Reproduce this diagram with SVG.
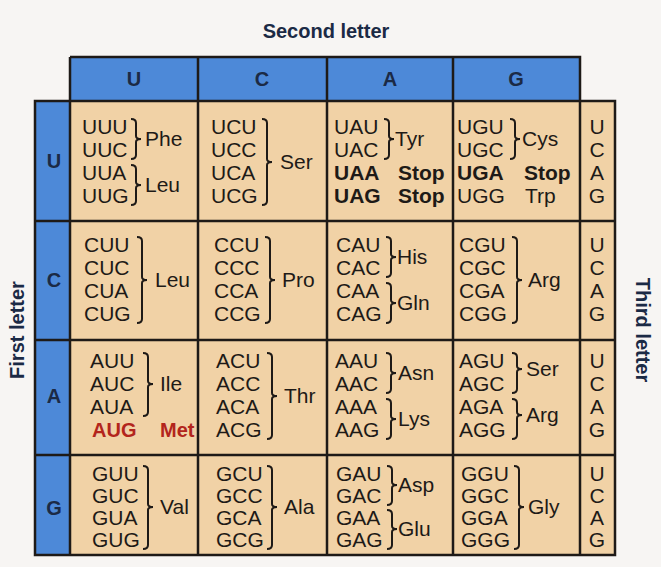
<svg xmlns="http://www.w3.org/2000/svg" width="661" height="567" viewBox="0 0 661 567">
<style>
text{font-family:"Liberation Sans",Arial,sans-serif;fill:#1e1a17}
.c{font-size:21px}
.b{font-size:21px;font-weight:bold}
.h{font-size:20px;font-weight:bold;fill:#1b2a45;text-anchor:middle}
.r{fill:#b3251c;font-weight:bold;font-size:20px}
.br{fill:none;stroke:#1e1a17;stroke-width:2}
.ln{stroke:#1e1a17;stroke-width:2.5;fill:none}
.t{font-size:21px;text-anchor:middle}
</style>
<rect width="661" height="567" fill="#f7f5f3"/>
<g id="title-second"><text class="h" x="326" y="38">Second letter</text></g>
<g id="title-first"><text class="h" transform="translate(24,330) rotate(-90)">First letter</text></g>
<g id="title-third"><text class="h" transform="translate(636,330) rotate(90)">Third letter</text></g>
<g id="frame">
<rect x="70" y="57" width="510" height="44" fill="#4d89d8"/>
<rect x="35" y="101" width="35" height="454" fill="#4d89d8"/>
<rect x="70" y="101" width="545" height="454" fill="#f1d2a6"/>
<path class="ln" d="M70 57H580V101M70 57V555M198 57V555M327 57V555M453 57V555M580 57V555M35 101H615V555H35ZM35 221H615M35 340H615M35 455H615"/>
<text class="h" x="134" y="86">U</text><text class="h" x="262" y="86">C</text><text class="h" x="390" y="86">A</text><text class="h" x="516" y="86">G</text>
<text class="h" x="54" y="168">U</text><text class="h" x="54" y="287">C</text><text class="h" x="54" y="403">A</text><text class="h" x="54" y="515">G</text>
</g>
<g id="third">
<text class="t" x="597" y="134">U</text><text class="t" x="597" y="157">C</text><text class="t" x="597" y="180">A</text><text class="t" x="597" y="203">G</text>
<text class="t" x="597" y="252">U</text><text class="t" x="597" y="275">C</text><text class="t" x="597" y="298">A</text><text class="t" x="597" y="321">G</text>
<text class="t" x="597" y="368">U</text><text class="t" x="597" y="391">C</text><text class="t" x="597" y="414">A</text><text class="t" x="597" y="437">G</text>
<text class="t" x="597" y="481">U</text><text class="t" x="597" y="503">C</text><text class="t" x="597" y="525">A</text><text class="t" x="597" y="547">G</text>
</g>
<g id="colU">
<text class="c" x="82" y="134">UUU</text><text class="c" x="82" y="157">UUC</text><text class="c" x="82" y="180">UUA</text><text class="c" x="82" y="203">UUG</text>
<text class="c" x="145" y="146">Phe</text><text class="c" x="145" y="192">Leu</text>
<text class="c" x="84" y="252">CUU</text><text class="c" x="84" y="275">CUC</text><text class="c" x="84" y="298">CUA</text><text class="c" x="84" y="321">CUG</text>
<text class="c" x="155" y="287">Leu</text>
<text class="c" x="90" y="368">AUU</text><text class="c" x="90" y="391">AUC</text><text class="c" x="90" y="414">AUA</text>
<text class="r" x="92" y="437">AUG</text><text class="r" x="160" y="437">Met</text>
<text class="c" x="160" y="391">Ile</text>
<text class="c" x="92" y="481">GUU</text><text class="c" x="92" y="503">GUC</text><text class="c" x="92" y="525">GUA</text><text class="c" x="92" y="547">GUG</text>
<text class="c" x="160" y="514">Val</text>
</g>
<g id="colC">
<text class="c" x="211" y="134">UCU</text><text class="c" x="211" y="157">UCC</text><text class="c" x="211" y="180">UCA</text><text class="c" x="211" y="203">UCG</text><text class="c" x="280" y="169">Ser</text>
<text class="c" x="214" y="252">CCU</text><text class="c" x="214" y="275">CCC</text><text class="c" x="214" y="298">CCA</text><text class="c" x="214" y="321">CCG</text><text class="c" x="282" y="287">Pro</text>
<text class="c" x="216" y="368">ACU</text><text class="c" x="216" y="391">ACC</text><text class="c" x="216" y="414">ACA</text><text class="c" x="216" y="437">ACG</text><text class="c" x="284" y="403">Thr</text>
<text class="c" x="216" y="481">GCU</text><text class="c" x="216" y="503">GCC</text><text class="c" x="216" y="525">GCA</text><text class="c" x="216" y="547">GCG</text><text class="c" x="284" y="514">Ala</text>
</g>
<g id="colA">
<text class="c" x="334" y="134">UAU</text><text class="c" x="334" y="157">UAC</text><text class="c" x="395" y="146">Tyr</text>
<text class="b" x="334" y="180">UAA</text><text class="b" x="398" y="180">Stop</text>
<text class="b" x="334" y="203">UAG</text><text class="b" x="398" y="203">Stop</text>
<text class="c" x="336" y="252">CAU</text><text class="c" x="336" y="275">CAC</text><text class="c" x="397" y="264">His</text>
<text class="c" x="336" y="298">CAA</text><text class="c" x="336" y="321">CAG</text><text class="c" x="397" y="310">Gln</text>
<text class="c" x="335" y="368">AAU</text><text class="c" x="335" y="391">AAC</text><text class="c" x="398" y="380">Asn</text>
<text class="c" x="335" y="414">AAA</text><text class="c" x="335" y="437">AAG</text><text class="c" x="398" y="426">Lys</text>
<text class="c" x="336" y="481">GAU</text><text class="c" x="336" y="503">GAC</text><text class="c" x="398" y="492">Asp</text>
<text class="c" x="336" y="525">GAA</text><text class="c" x="336" y="547">GAG</text><text class="c" x="398" y="536">Glu</text>
</g>
<g id="colG">
<text class="c" x="457" y="134">UGU</text><text class="c" x="457" y="157">UGC</text><text class="c" x="522" y="146">Cys</text>
<text class="b" x="457" y="180">UGA</text><text class="b" x="524" y="180">Stop</text>
<text class="c" x="457" y="203">UGG</text><text class="c" x="525" y="203">Trp</text>
<text class="c" x="459" y="252">CGU</text><text class="c" x="459" y="275">CGC</text><text class="c" x="459" y="298">CGA</text><text class="c" x="459" y="321">CGG</text><text class="c" x="528" y="287">Arg</text>
<text class="c" x="459" y="368">AGU</text><text class="c" x="459" y="391">AGC</text><text class="c" x="526" y="376">Ser</text>
<text class="c" x="459" y="414">AGA</text><text class="c" x="459" y="437">AGG</text><text class="c" x="526" y="422">Arg</text>
<text class="c" x="461" y="481">GGU</text><text class="c" x="461" y="503">GGC</text><text class="c" x="461" y="525">GGA</text><text class="c" x="461" y="547">GGG</text><text class="c" x="528" y="514">Gly</text>
</g>
<g id="brackets" class="br">
<path d="M131 119q5 0 5 4V136q0 3 5 3q-5 0 -5 3V155q0 4 -5 4"/>
<path d="M131 165q5 0 5 4V182q0 3 5 3q-5 0 -5 3V201q0 4 -5 4"/>
<path d="M137 237q5 0 5 4V277q0 3 5 3q-5 0 -5 3V319q0 4 -5 4"/>
<path d="M143 353q5 0 5 4V381q0 3 5 3q-5 0 -5 3V412q0 4 -5 4"/>
<path d="M143 466q5 0 5 4V504q0 3 5 3q-5 0 -5 3V545q0 4 -5 4"/>
<path d="M262 119q5 0 5 4V159q0 3 5 3q-5 0 -5 3V201q0 4 -5 4"/>
<path d="M265 237q5 0 5 4V277q0 3 5 3q-5 0 -5 3V319q0 4 -5 4"/>
<path d="M267 353q5 0 5 4V393q0 3 5 3q-5 0 -5 3V435q0 4 -5 4"/>
<path d="M267 466q5 0 5 4V504q0 3 5 3q-5 0 -5 3V545q0 4 -5 4"/>
<path d="M384 119q5 0 5 4V136q0 3 5 3q-5 0 -5 3V155q0 4 -5 4"/>
<path d="M386 237q5 0 5 4V254q0 3 5 3q-5 0 -5 3V273q0 4 -5 4"/>
<path d="M386 283q5 0 5 4V300q0 3 5 3q-5 0 -5 3V319q0 4 -5 4"/>
<path d="M386 353q5 0 5 4V370q0 3 5 3q-5 0 -5 3V389q0 4 -5 4"/>
<path d="M386 399q5 0 5 4V416q0 3 5 3q-5 0 -5 3V435q0 4 -5 4"/>
<path d="M387 466q5 0 5 4V482q0 3 5 3q-5 0 -5 3V501q0 4 -5 4"/>
<path d="M387 510q5 0 5 4V526q0 3 5 3q-5 0 -5 3V545q0 4 -5 4"/>
<path d="M510 119q5 0 5 4V136q0 3 5 3q-5 0 -5 3V155q0 4 -5 4"/>
<path d="M512 237q5 0 5 4V277q0 3 5 3q-5 0 -5 3V319q0 4 -5 4"/>
<path d="M512 353q5 0 5 4V366q0 3 5 3q-5 0 -5 3V389q0 4 -5 4"/>
<path d="M512 399q5 0 5 4V412q0 3 5 3q-5 0 -5 3V435q0 4 -5 4"/>
<path d="M514 466q5 0 5 4V504q0 3 5 3q-5 0 -5 3V545q0 4 -5 4"/>
</g>
</svg>
